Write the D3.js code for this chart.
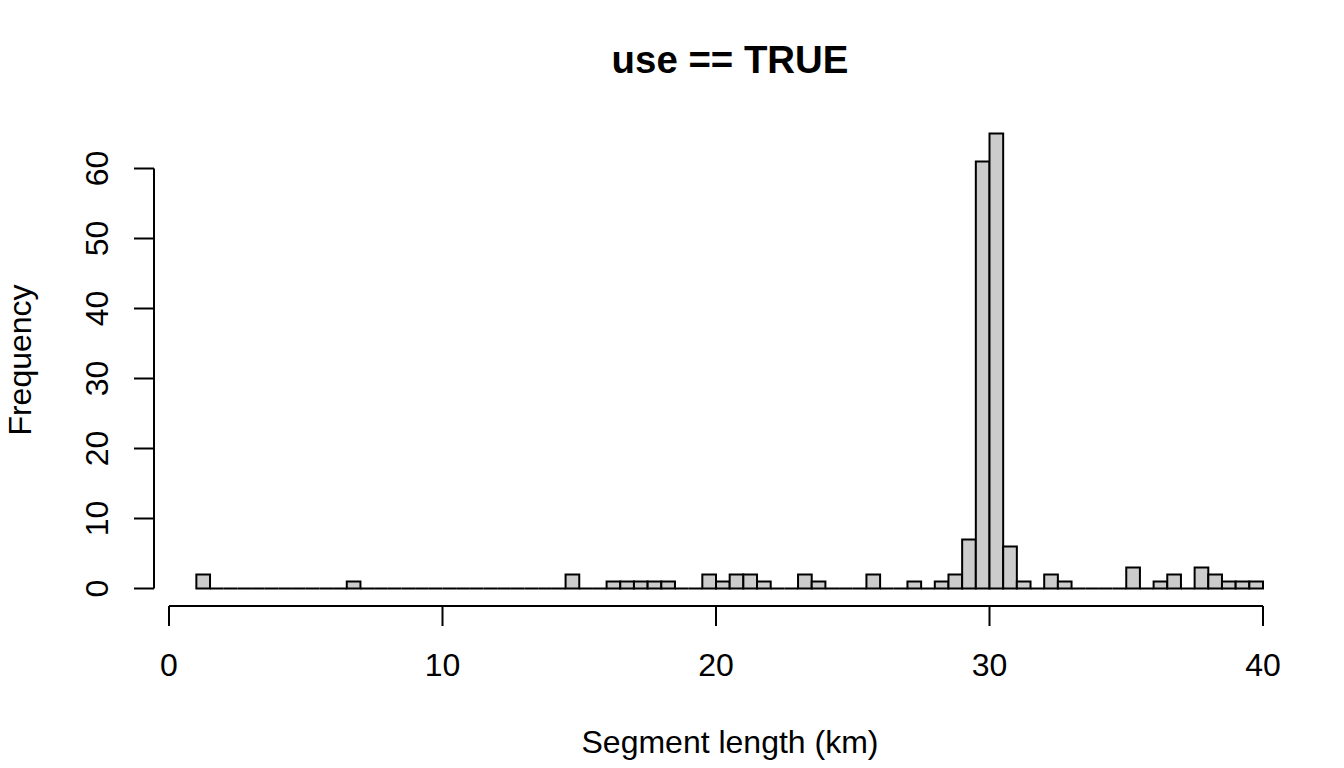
<!DOCTYPE html>
<html>
<head>
<meta charset="utf-8">
<script src="https://cdn.jsdelivr.net/npm/d3@7"></script>
<style>
  html, body { margin: 0; padding: 0; background: #fff; }
  svg { display: block; }
  text { font-family: "Liberation Sans", Arial, sans-serif; fill: #000; }
</style>
</head>
<body>
<div id="chart"></div>
<script>
// histogram bins, 0.5 km wide, first one starts at 1 km
var binStart = 1;
var binWidth = 0.5;
var counts = [
  2,0,0,0,0,0,0,0,0,0,0,1,0,0,0,0,0,0,0,0,
  0,0,0,0,0,0,0,2,0,0,1,1,1,1,1,0,0,2,1,2,
  2,1,0,0,2,1,0,0,0,2,0,0,1,0,1,2,7,61,65,6,
  1,0,2,1,0,0,0,0,3,0,1,2,0,3,2,1,1,1
];
var xTicks = [0, 10, 20, 30, 40];
var yTicks = [0, 10, 20, 30, 40, 50, 60];

var width = 1344,
    height = 768;

var x = d3.scaleLinear().domain([0, 40]).range([169, 1263]);
var y = d3.scaleLinear().domain([0, 60]).range([588.5, 168.5]);

var svg = d3.select("#chart")
  .append("svg")
  .attr("width", width)
  .attr("height", height);

// paths, not rects: an empty bin still has to draw its flat outline
function barPath(d, i) {
  var p = d3.path();
  var left = x(binStart + i * binWidth),
      right = x(binStart + (i + 1) * binWidth);
  p.moveTo(left, y(0));
  p.lineTo(left, y(d));
  p.lineTo(right, y(d));
  p.lineTo(right, y(0));
  p.closePath();
  return p.toString();
}

svg.selectAll("path.bar")
  .data(counts)
  .enter().append("path")
  .attr("class", "bar")
  .attr("d", barPath)
  .style("fill", "#cccccc")
  .style("stroke", "#000")
  .style("stroke-width", 2);

var xAxis = d3.axisBottom(x)
  .tickValues(xTicks)
  .tickSize(20)
  .tickSizeOuter(0)
  .tickPadding(27)
  .offset(0);

var gx = svg.append("g")
  .attr("transform", "translate(0,606)")
  .call(xAxis);

var yAxis = d3.axisLeft(y)
  .tickValues(yTicks)
  .tickSize(20)
  .tickSizeOuter(0)
  .tickPadding(0)
  .offset(0);

var gy = svg.append("g")
  .attr("transform", "translate(154,0)")
  .call(yAxis);

svg.selectAll(".domain, .tick line")
  .style("stroke", "#000")
  .style("stroke-width", 2);

svg.selectAll(".tick text")
  .style("font-size", "32px")
  .style("font-family", "'Liberation Sans', Arial, sans-serif");

// R draws y tick labels rotated
gy.selectAll(".tick text")
  .attr("x", null)
  .attr("dy", null)
  .attr("text-anchor", "middle")
  .attr("transform", "translate(-46,0) rotate(-90)");

svg.append("text")
  .attr("x", 730)
  .attr("y", 72.5)
  .attr("text-anchor", "middle")
  .style("font-size", "38.4px")
  .style("font-weight", "bold")
  .text("use == TRUE");

svg.append("text")
  .attr("x", 730)
  .attr("y", 753)
  .attr("text-anchor", "middle")
  .style("font-size", "32px")
  .text("Segment length (km)");

svg.append("text")
  .attr("transform", "translate(31,360) rotate(-90)")
  .attr("text-anchor", "middle")
  .style("font-size", "32px")
  .text("Frequency");
</script>
</body>
</html>
